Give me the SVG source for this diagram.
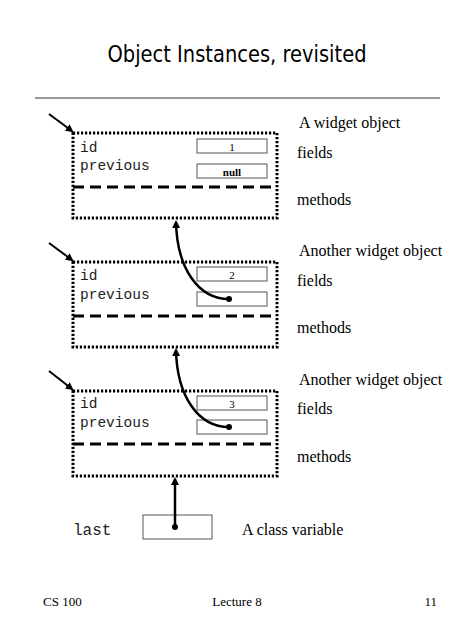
<svg xmlns="http://www.w3.org/2000/svg" width="474" height="622" viewBox="0 0 474 622">
<defs>
<style>
.obj{fill:none;stroke:#000;stroke-width:3;stroke-dasharray:2.2 1.8}
.sep{fill:none;stroke:#000;stroke-width:3;stroke-dasharray:11 6}
.fld{fill:#fff;stroke:#555;stroke-width:1}
.mono{font-family:"Liberation Mono","Courier New",monospace;font-size:14.5px;fill:#222}
.tm{font-family:"Liberation Serif","Times New Roman",serif;font-size:16px;fill:#000}
.val{font-family:"Liberation Serif","Times New Roman",serif;font-size:11px;fill:#000;text-anchor:middle}
.ft{font-family:"Liberation Serif","Times New Roman",serif;font-size:13px;fill:#000}
.ln{fill:none;stroke:#000;stroke-width:2.5}
.ptr{fill:none;stroke:#000;stroke-width:2}
</style>
<marker id="ah" markerWidth="8" markerHeight="8" refX="6" refY="4" orient="auto" markerUnits="userSpaceOnUse">
<path d="M0,0 L8,4 L0,8 Z" fill="#000"/>
</marker>
</defs>
<rect width="474" height="622" fill="#fff"/>
<text x="237" y="62" text-anchor="middle" textLength="259" lengthAdjust="spacingAndGlyphs" style="font-family:'DejaVu Sans','Liberation Sans',sans-serif;font-size:23px;fill:#000">Object Instances, revisited</text>
<line x1="35" y1="98" x2="440" y2="98" stroke="#777" stroke-width="1.3"/>

<g id="obj1">
<rect class="obj" x="73" y="133" width="204" height="85"/>
<line class="sep" x1="73" y1="187" x2="277" y2="187"/>
<text class="mono" x="80" y="152">id</text>
<text class="mono" x="80" y="170">previous</text>
<rect class="fld" x="197" y="139" width="70" height="14"/>
<text class="val" x="232" y="151">1</text>
<rect class="fld" x="197" y="164" width="70" height="14"/>
<text class="val" x="232" y="176" font-weight="bold">null</text>
<text class="tm" x="299" y="128">A widget object</text>
<text class="tm" x="297" y="158">fields</text>
<text class="tm" x="297" y="205">methods</text>
</g>

<g id="obj2">
<rect class="obj" x="73" y="262" width="204" height="85"/>
<line class="sep" x1="73" y1="316" x2="277" y2="316"/>
<text class="mono" x="80" y="280">id</text>
<text class="mono" x="80" y="299">previous</text>
<rect class="fld" x="197" y="267" width="70" height="14"/>
<text class="val" x="232" y="279">2</text>
<rect class="fld" x="197" y="292" width="70" height="14"/>
<text class="tm" x="299" y="256">Another widget object</text>
<text class="tm" x="297" y="286">fields</text>
<text class="tm" x="297" y="333">methods</text>
</g>

<g id="obj3">
<rect class="obj" x="73" y="391" width="204" height="85"/>
<line class="sep" x1="73" y1="444" x2="277" y2="444"/>
<text class="mono" x="80" y="408">id</text>
<text class="mono" x="80" y="427">previous</text>
<rect class="fld" x="197" y="396" width="70" height="14"/>
<text class="val" x="232" y="408">3</text>
<rect class="fld" x="197" y="420" width="70" height="14"/>
<text class="tm" x="299" y="385">Another widget object</text>
<text class="tm" x="297" y="414">fields</text>
<text class="tm" x="297" y="462">methods</text>
</g>

<g id="last">
<text class="mono" x="73" y="535" style="font-size:16px">last</text>
<rect class="fld" x="143" y="515" width="69" height="24"/>
<text class="tm" x="242" y="535">A class variable</text>
</g>

<g id="connectors">
<line class="ptr" x1="49" y1="114" x2="72" y2="131" marker-end="url(#ah)"/>
<line class="ptr" x1="49" y1="243" x2="72" y2="260" marker-end="url(#ah)"/>
<line class="ptr" x1="49" y1="371" x2="72" y2="389" marker-end="url(#ah)"/>
<path class="ln" d="M229,299 C198,299 177,268 176,222" marker-end="url(#ah)"/>
<circle cx="229" cy="299" r="3" fill="#000"/>
<path class="ln" d="M229,427 C198,427 177,396 176,350" marker-end="url(#ah)"/>
<circle cx="229" cy="427" r="3" fill="#000"/>
<line class="ln" x1="175" y1="527" x2="175" y2="479" marker-end="url(#ah)"/>
<circle cx="175" cy="527" r="3" fill="#000"/>
</g>

<text class="ft" x="43" y="606">CS 100</text>
<text class="ft" x="237" y="606" text-anchor="middle">Lecture 8</text>
<text class="ft" x="437" y="606" text-anchor="end">11</text>
</svg>
